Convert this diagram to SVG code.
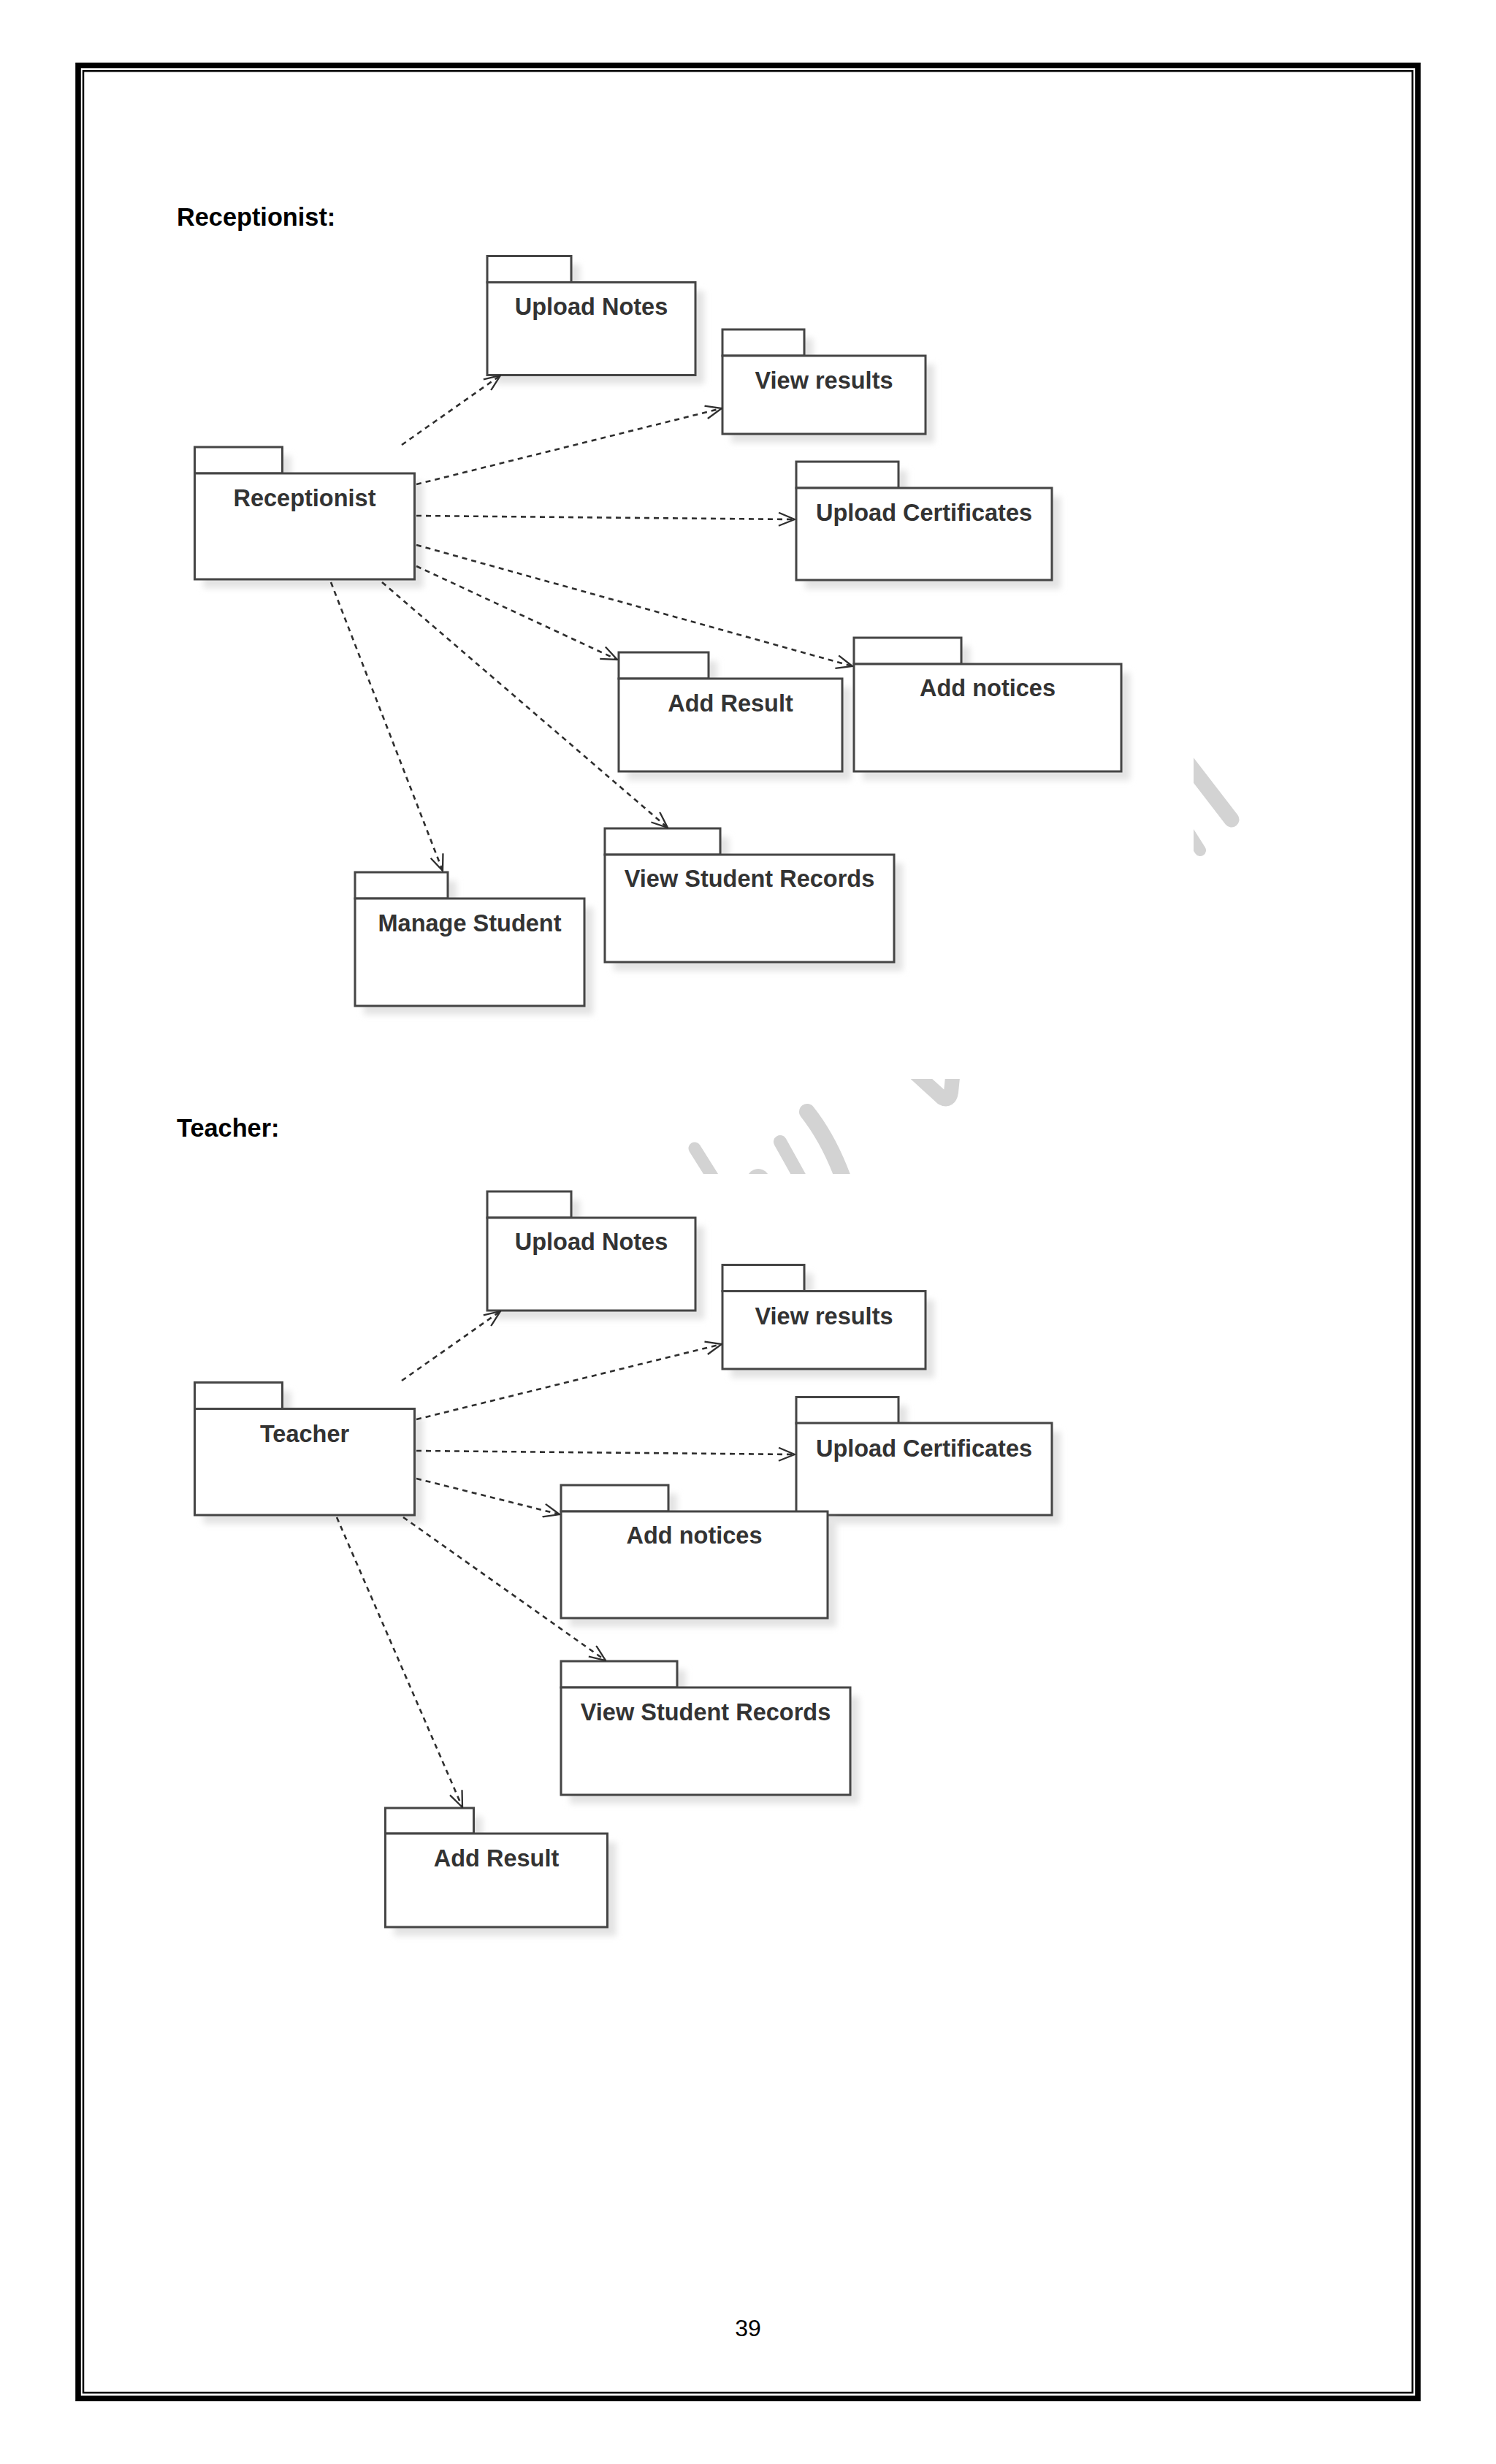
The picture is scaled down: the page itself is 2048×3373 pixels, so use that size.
<svg xmlns="http://www.w3.org/2000/svg" width="2048" height="3373" viewBox="0 0 2048 3373">
<style>
.tab,.body{fill:#fff;stroke:#454545;stroke-width:3}
.sh{fill:#e3e3e3}
.lbl{font-family:"Liberation Sans",Arial,sans-serif;font-weight:bold;font-size:32.5px;fill:#333;text-anchor:middle}
.hdr{font-family:"Liberation Sans",Arial,sans-serif;font-weight:bold;font-size:34.3px;fill:#000}
.pg{font-family:"Liberation Sans",Arial,sans-serif;font-size:32px;fill:#000;text-anchor:middle}
.dep{fill:none;stroke:#2e2e2e;stroke-width:2.6;stroke-dasharray:7 6;marker-end:url(#open)}
.wm{fill:none;stroke:#d3d3d3;stroke-linecap:round;stroke-linejoin:round}
</style>
<defs>
<filter id="blur" x="-10%" y="-10%" width="130%" height="130%"><feGaussianBlur stdDeviation="4"/></filter>
<marker id="open" viewBox="0 0 24 20" refX="23" refY="10" markerWidth="24" markerHeight="20" markerUnits="userSpaceOnUse" orient="auto">
<path d="M1,1 L23,10 L1,19" fill="none" stroke="#2e2e2e" stroke-width="2.3" stroke-dasharray="none"/>
</marker>
<clipPath id="cw1"><rect x="1634" y="1000" width="150" height="200"/></clipPath>
<clipPath id="cw2"><rect x="1200" y="1477" width="200" height="100"/></clipPath>
<clipPath id="cw3"><rect x="900" y="1490" width="300" height="117"/></clipPath>
</defs>
<rect width="2048" height="3373" fill="#fff"/>

<g id="page-border" fill="none" stroke="#000">
<rect x="107" y="89.5" width="1834" height="3193.8" stroke-width="7.6"/>
<rect x="114" y="97.2" width="1819.7" height="3178.1" stroke-width="2.5"/>
</g>

<g id="watermark" class="wm">
<g clip-path="url(#cw1)">
<path d="M1612,1026 L1686,1122" stroke-width="21"/>
<path d="M1620,1128 L1643,1164" stroke-width="16"/>
</g>
<g clip-path="url(#cw2)">
<path d="M1245,1462 L1290,1503 Q1300,1508 1302,1495 L1305,1465" stroke-width="20"/>
</g>
<g clip-path="url(#cw3)">
<path d="M951,1572 L978,1615" stroke-width="17"/>
<ellipse cx="1038" cy="1620" rx="17" ry="20" fill="#d3d3d3" stroke="none"/>
<path d="M1068,1563 L1097,1615" stroke-width="18"/>
<path d="M1105,1522 Q1135,1560 1155,1615" stroke-width="22"/>
</g>
</g>

<text class="hdr" x="242" y="309">Receptionist:</text>
<text class="hdr" x="242" y="1555.5">Teacher:</text>
<text class="pg" x="1024" y="3198">39</text>

<!-- Receptionist diagram -->
<g id="r-receptionist">
<g class="sh" filter="url(#blur)"><rect x="278.5" y="624" width="120" height="36"/><rect x="278.5" y="660" width="301" height="145"/></g>
<rect class="tab" x="266.5" y="612" width="120" height="36"/>
<rect class="body" x="266.5" y="648" width="301" height="145"/>
<text class="lbl" x="417" y="693">Receptionist</text>
</g>
<g id="r-upload-notes">
<g class="sh" filter="url(#blur)"><rect x="679" y="362.5" width="115" height="36"/><rect x="679" y="398.5" width="285" height="127"/></g>
<rect class="tab" x="667" y="350.5" width="115" height="36"/>
<rect class="body" x="667" y="386.5" width="285" height="127"/>
<text class="lbl" x="809.5" y="431">Upload Notes</text>
</g>
<g id="r-view-results">
<g class="sh" filter="url(#blur)"><rect x="1001" y="463" width="112" height="36"/><rect x="1001" y="499" width="278" height="107"/></g>
<rect class="tab" x="989" y="451" width="112" height="36"/>
<rect class="body" x="989" y="487" width="278" height="107"/>
<text class="lbl" x="1128" y="532">View results</text>
</g>
<g id="r-upload-certificates">
<g class="sh" filter="url(#blur)"><rect x="1102" y="644" width="140" height="36"/><rect x="1102" y="680" width="350" height="126"/></g>
<rect class="tab" x="1090" y="632" width="140" height="36"/>
<rect class="body" x="1090" y="668" width="350" height="126"/>
<text class="lbl" x="1265" y="713">Upload Certificates</text>
</g>
<g id="r-add-result">
<g class="sh" filter="url(#blur)"><rect x="859" y="905" width="123" height="36"/><rect x="859" y="941" width="306" height="127"/></g>
<rect class="tab" x="847" y="893" width="123" height="36"/>
<rect class="body" x="847" y="929" width="306" height="127"/>
<text class="lbl" x="1000" y="974">Add Result</text>
</g>
<g id="r-add-notices">
<g class="sh" filter="url(#blur)"><rect x="1181" y="885" width="147" height="36"/><rect x="1181" y="921" width="366" height="147"/></g>
<rect class="tab" x="1169" y="873" width="147" height="36"/>
<rect class="body" x="1169" y="909" width="366" height="147"/>
<text class="lbl" x="1352" y="953">Add notices</text>
</g>
<g id="r-view-student-records">
<g class="sh" filter="url(#blur)"><rect x="840" y="1146" width="158" height="36"/><rect x="840" y="1182" width="396" height="147"/></g>
<rect class="tab" x="828" y="1134" width="158" height="36"/>
<rect class="body" x="828" y="1170" width="396" height="147"/>
<text class="lbl" x="1026" y="1214">View Student Records</text>
</g>
<g id="r-manage-student">
<g class="sh" filter="url(#blur)"><rect x="498" y="1206" width="127" height="36"/><rect x="498" y="1242" width="314" height="147"/></g>
<rect class="tab" x="486" y="1194" width="127" height="36"/>
<rect class="body" x="486" y="1230" width="314" height="147"/>
<text class="lbl" x="643" y="1275">Manage Student</text>
</g>

<!-- Teacher diagram -->
<g id="t-teacher">
<g class="sh" filter="url(#blur)"><rect x="278.5" y="1904.5" width="120" height="36"/><rect x="278.5" y="1940.5" width="301" height="145.5"/></g>
<rect class="tab" x="266.5" y="1892.5" width="120" height="36"/>
<rect class="body" x="266.5" y="1928.5" width="301" height="145.5"/>
<text class="lbl" x="417" y="1974">Teacher</text>
</g>
<g id="t-upload-notes">
<g class="sh" filter="url(#blur)"><rect x="679" y="1643" width="115" height="36"/><rect x="679" y="1679" width="285" height="127"/></g>
<rect class="tab" x="667" y="1631" width="115" height="36"/>
<rect class="body" x="667" y="1667" width="285" height="127"/>
<text class="lbl" x="809.5" y="1711">Upload Notes</text>
</g>
<g id="t-view-results">
<g class="sh" filter="url(#blur)"><rect x="1001" y="1743.5" width="112" height="36"/><rect x="1001" y="1779.5" width="278" height="106.5"/></g>
<rect class="tab" x="989" y="1731.5" width="112" height="36"/>
<rect class="body" x="989" y="1767.5" width="278" height="106.5"/>
<text class="lbl" x="1128" y="1813">View results</text>
</g>
<g id="t-upload-certificates">
<g class="sh" filter="url(#blur)"><rect x="1102" y="1924.5" width="140" height="36"/><rect x="1102" y="1960" width="350" height="126"/></g>
<rect class="tab" x="1090" y="1912.5" width="140" height="36"/>
<rect class="body" x="1090" y="1948" width="350" height="126"/>
<text class="lbl" x="1265" y="1994">Upload Certificates</text>
</g>
<g id="t-add-notices">
<g class="sh" filter="url(#blur)"><rect x="780" y="2045" width="147" height="36"/><rect x="780" y="2081" width="365" height="146"/></g>
<rect class="tab" x="768" y="2033" width="147" height="36"/>
<rect class="body" x="768" y="2069" width="365" height="146"/>
<text class="lbl" x="950.5" y="2113">Add notices</text>
</g>
<g id="t-view-student-records">
<g class="sh" filter="url(#blur)"><rect x="780" y="2286" width="159" height="36"/><rect x="780" y="2322" width="396" height="147"/></g>
<rect class="tab" x="768" y="2274" width="159" height="36"/>
<rect class="body" x="768" y="2310" width="396" height="147"/>
<text class="lbl" x="966" y="2355">View Student Records</text>
</g>
<g id="t-add-result">
<g class="sh" filter="url(#blur)"><rect x="539.5" y="2487" width="121" height="35"/><rect x="539.5" y="2522" width="304" height="128"/></g>
<rect class="tab" x="527.5" y="2475" width="121" height="35"/>
<rect class="body" x="527.5" y="2510" width="304" height="128"/>
<text class="lbl" x="679.5" y="2555">Add Result</text>
</g>

<g id="connectors">
<path class="dep" d="M550,609 L685,514"/>
<path class="dep" d="M570,663 L988,559"/>
<path class="dep" d="M570,706 L1088,711"/>
<path class="dep" d="M570,746 L1167,912"/>
<path class="dep" d="M570,775 L845,903"/>
<path class="dep" d="M523,797 L914,1133"/>
<path class="dep" d="M453,797 L606,1192"/>
<path class="dep" d="M550,1890 L685,1795"/>
<path class="dep" d="M570,1943 L988,1840"/>
<path class="dep" d="M570,1986 L1088,1991"/>
<path class="dep" d="M570,2024 L766,2073"/>
<path class="dep" d="M552,2077 L829,2273"/>
<path class="dep" d="M461,2077 L633,2474"/>
</g>
</svg>
